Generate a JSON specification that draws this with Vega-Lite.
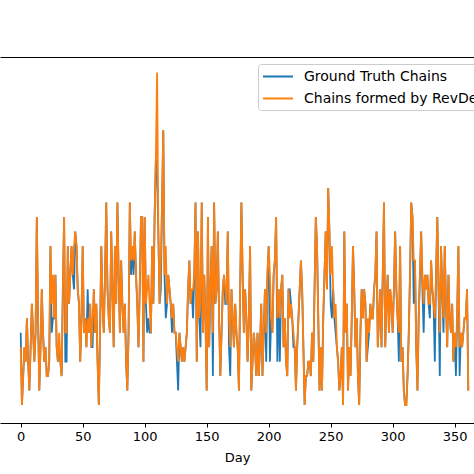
{
"$schema": "https://vega.github.io/schema/vega-lite/v6.json",
"width": 474, "height": 366,
"autosize": {"type": "none"},
"padding": {"top": 57, "left": 0, "right": 0, "bottom": 51},
"background": "white",
"config": {"view": {"stroke": null}, "font": "DejaVu Sans"},
"resolve": {"axis": {"x": "independent"}},
"data": {"values": [
{"d":0,"g":5,"r":4},{"d":1,"g":0,"r":0},{"d":2,"g":2,"r":2},{"d":3,"g":4,"r":4},{"d":4,"g":3,"r":3},{"d":5,"g":6,"r":6},{"d":6,"g":3,"r":3},{"d":7,"g":1,"r":1},{"d":8,"g":4,"r":4},{"d":9,"g":7,"r":7},
{"d":10,"g":5,"r":5},{"d":11,"g":3,"r":3},{"d":12,"g":5,"r":5},{"d":13,"g":13,"r":13},{"d":14,"g":6,"r":6},{"d":15,"g":1,"r":1},{"d":16,"g":4,"r":4},{"d":17,"g":8,"r":8},{"d":18,"g":5,"r":5},{"d":19,"g":3,"r":3},
{"d":20,"g":4,"r":4},{"d":21,"g":2,"r":2},{"d":22,"g":2,"r":2},{"d":23,"g":3,"r":3},{"d":24,"g":11,"r":11},{"d":25,"g":5,"r":7},{"d":26,"g":6,"r":9},{"d":27,"g":6,"r":6},{"d":28,"g":9,"r":9},{"d":29,"g":4,"r":4},
{"d":30,"g":3,"r":3},{"d":31,"g":4,"r":5},{"d":32,"g":3,"r":3},{"d":33,"g":2,"r":2},{"d":34,"g":8,"r":8},{"d":35,"g":13,"r":13},{"d":36,"g":3,"r":5},{"d":37,"g":3,"r":5},{"d":38,"g":11,"r":11},{"d":39,"g":7,"r":7},
{"d":40,"g":9,"r":9},{"d":41,"g":11,"r":11},{"d":42,"g":9,"r":9},{"d":43,"g":8,"r":11},{"d":44,"g":12,"r":12},{"d":45,"g":11,"r":11},{"d":46,"g":8,"r":8},{"d":47,"g":7,"r":7},{"d":48,"g":3,"r":3},{"d":49,"g":6,"r":6},
{"d":50,"g":11,"r":11},{"d":51,"g":5,"r":5},{"d":52,"g":6,"r":6},{"d":53,"g":4,"r":4},{"d":54,"g":8,"r":6},{"d":55,"g":5,"r":5},{"d":56,"g":7,"r":7},{"d":57,"g":4,"r":4},{"d":58,"g":4,"r":6},{"d":59,"g":8,"r":8},
{"d":60,"g":5,"r":5},{"d":61,"g":7,"r":7},{"d":62,"g":3,"r":3},{"d":63,"g":0,"r":0},{"d":64,"g":5,"r":5},{"d":65,"g":11,"r":11},{"d":66,"g":7,"r":7},{"d":67,"g":5,"r":5},{"d":68,"g":9,"r":9},{"d":69,"g":14,"r":14},
{"d":70,"g":8,"r":8},{"d":71,"g":6,"r":6},{"d":72,"g":5,"r":5},{"d":73,"g":12,"r":12},{"d":74,"g":8,"r":8},{"d":75,"g":4,"r":4},{"d":76,"g":11,"r":11},{"d":77,"g":7,"r":7},{"d":78,"g":14,"r":14},{"d":79,"g":9,"r":9},
{"d":80,"g":5,"r":5},{"d":81,"g":10,"r":10},{"d":82,"g":7,"r":7},{"d":83,"g":5,"r":5},{"d":84,"g":7,"r":7},{"d":85,"g":3,"r":3},{"d":86,"g":1,"r":1},{"d":87,"g":5,"r":5},{"d":88,"g":14,"r":14},{"d":89,"g":9,"r":10},
{"d":90,"g":11,"r":11},{"d":91,"g":9,"r":10},{"d":92,"g":12,"r":12},{"d":93,"g":9,"r":9},{"d":94,"g":7,"r":7},{"d":95,"g":4,"r":4},{"d":96,"g":8,"r":8},{"d":97,"g":13,"r":13},{"d":98,"g":13,"r":13},{"d":99,"g":3,"r":3},
{"d":100,"g":13,"r":13},{"d":101,"g":7,"r":7},{"d":102,"g":5,"r":8},{"d":103,"g":6,"r":9},{"d":104,"g":5,"r":7},{"d":105,"g":5,"r":5},{"d":106,"g":11,"r":11},{"d":107,"g":7,"r":7},{"d":108,"g":13,"r":13},{"d":109,"g":17,"r":17},
{"d":110,"g":16,"r":23},{"d":111,"g":12,"r":12},{"d":112,"g":7,"r":7},{"d":113,"g":8,"r":10},{"d":114,"g":14,"r":14},{"d":115,"g":19,"r":19},{"d":116,"g":9,"r":9},{"d":117,"g":6,"r":11},{"d":118,"g":7,"r":7},{"d":119,"g":9,"r":9},
{"d":120,"g":8,"r":8},{"d":121,"g":7,"r":7},{"d":122,"g":5,"r":6},{"d":123,"g":7,"r":7},{"d":124,"g":5,"r":5},{"d":125,"g":5,"r":5},{"d":126,"g":3,"r":4},{"d":127,"g":1,"r":3},{"d":128,"g":5,"r":5},{"d":129,"g":4,"r":4},
{"d":130,"g":3,"r":3},{"d":131,"g":4,"r":4},{"d":132,"g":3,"r":3},{"d":133,"g":4,"r":4},{"d":134,"g":5,"r":5},{"d":135,"g":8,"r":8},{"d":136,"g":10,"r":10},{"d":137,"g":7,"r":7},{"d":138,"g":8,"r":8},{"d":139,"g":6,"r":8},
{"d":140,"g":9,"r":9},{"d":141,"g":14,"r":14},{"d":142,"g":3,"r":3},{"d":143,"g":12,"r":12},{"d":144,"g":6,"r":6},{"d":145,"g":4,"r":7},{"d":146,"g":14,"r":14},{"d":147,"g":5,"r":5},{"d":148,"g":9,"r":9},{"d":149,"g":6,"r":6},
{"d":150,"g":1,"r":1},{"d":151,"g":13,"r":13},{"d":152,"g":4,"r":4},{"d":153,"g":8,"r":8},{"d":154,"g":11,"r":11},{"d":155,"g":2,"r":5},{"d":156,"g":14,"r":14},{"d":157,"g":7,"r":7},{"d":158,"g":8,"r":8},{"d":159,"g":12,"r":12},
{"d":160,"g":6,"r":6},{"d":161,"g":2,"r":2},{"d":162,"g":5,"r":5},{"d":163,"g":8,"r":8},{"d":164,"g":9,"r":9},{"d":165,"g":7,"r":8},{"d":166,"g":7,"r":7},{"d":167,"g":12,"r":12},{"d":168,"g":4,"r":6},{"d":169,"g":2,"r":4},
{"d":170,"g":8,"r":8},{"d":171,"g":6,"r":6},{"d":172,"g":4,"r":4},{"d":173,"g":7,"r":7},{"d":174,"g":5,"r":5},{"d":175,"g":4,"r":4},{"d":176,"g":1,"r":1},{"d":177,"g":8,"r":8},{"d":178,"g":14,"r":14},{"d":179,"g":9,"r":9},
{"d":180,"g":5,"r":5},{"d":181,"g":8,"r":8},{"d":182,"g":6,"r":6},{"d":183,"g":3,"r":3},{"d":184,"g":6,"r":6},{"d":185,"g":11,"r":11},{"d":186,"g":1,"r":1},{"d":187,"g":3,"r":3},{"d":188,"g":5,"r":5},{"d":189,"g":4,"r":4},
{"d":190,"g":2,"r":2},{"d":191,"g":5,"r":5},{"d":192,"g":2,"r":2},{"d":193,"g":4,"r":4},{"d":194,"g":7,"r":7},{"d":195,"g":2,"r":2},{"d":196,"g":5,"r":5},{"d":197,"g":8,"r":8},{"d":198,"g":3,"r":5},{"d":199,"g":9,"r":9},
{"d":200,"g":11,"r":11},{"d":201,"g":3,"r":9},{"d":202,"g":6,"r":6},{"d":203,"g":5,"r":5},{"d":204,"g":9,"r":9},{"d":205,"g":10,"r":10},{"d":206,"g":13,"r":13},{"d":207,"g":3,"r":6},{"d":208,"g":8,"r":8},{"d":209,"g":3,"r":6},
{"d":210,"g":8,"r":8},{"d":211,"g":9,"r":9},{"d":212,"g":4,"r":4},{"d":213,"g":6,"r":6},{"d":214,"g":3,"r":3},{"d":215,"g":2,"r":2},{"d":216,"g":8,"r":8},{"d":217,"g":8,"r":6},{"d":218,"g":7,"r":7},{"d":219,"g":6,"r":6},
{"d":220,"g":4,"r":5},{"d":221,"g":4,"r":4},{"d":222,"g":1,"r":1},{"d":223,"g":4,"r":4},{"d":224,"g":6,"r":6},{"d":225,"g":8,"r":8},{"d":226,"g":10,"r":10},{"d":227,"g":8,"r":8},{"d":228,"g":4,"r":4},{"d":229,"g":0,"r":0},
{"d":230,"g":2,"r":2},{"d":231,"g":2,"r":2},{"d":232,"g":3,"r":3},{"d":233,"g":3,"r":3},{"d":234,"g":2,"r":2},{"d":235,"g":5,"r":5},{"d":236,"g":3,"r":3},{"d":237,"g":8,"r":8},{"d":238,"g":13,"r":13},{"d":239,"g":11,"r":11},
{"d":240,"g":6,"r":6},{"d":241,"g":1,"r":1},{"d":242,"g":4,"r":4},{"d":243,"g":1,"r":1},{"d":244,"g":6,"r":6},{"d":245,"g":9,"r":9},{"d":246,"g":12,"r":12},{"d":247,"g":8,"r":8},{"d":248,"g":15,"r":15},{"d":249,"g":12,"r":12},
{"d":250,"g":7,"r":9},{"d":251,"g":6,"r":11},{"d":252,"g":8,"r":8},{"d":253,"g":6,"r":6},{"d":254,"g":5,"r":7},{"d":255,"g":4,"r":4},{"d":256,"g":3,"r":3},{"d":257,"g":1,"r":1},{"d":258,"g":2,"r":2},{"d":259,"g":4,"r":4},
{"d":260,"g":0,"r":0},{"d":261,"g":12,"r":12},{"d":262,"g":5,"r":5},{"d":263,"g":7,"r":7},{"d":264,"g":1,"r":1},{"d":265,"g":4,"r":4},{"d":266,"g":2,"r":2},{"d":267,"g":6,"r":6},{"d":268,"g":11,"r":11},{"d":269,"g":8,"r":8},
{"d":270,"g":4,"r":4},{"d":271,"g":6,"r":6},{"d":272,"g":2,"r":2},{"d":273,"g":0,"r":0},{"d":274,"g":5,"r":5},{"d":275,"g":8,"r":8},{"d":276,"g":6,"r":6},{"d":277,"g":8,"r":8},{"d":278,"g":7,"r":7},{"d":279,"g":3,"r":3},
{"d":280,"g":4,"r":6},{"d":281,"g":5,"r":5},{"d":282,"g":7,"r":7},{"d":283,"g":6,"r":6},{"d":284,"g":6,"r":6},{"d":285,"g":8,"r":8},{"d":286,"g":9,"r":9},{"d":287,"g":12,"r":12},{"d":288,"g":4,"r":4},{"d":289,"g":6,"r":6},
{"d":290,"g":8,"r":8},{"d":291,"g":4,"r":4},{"d":292,"g":9,"r":9},{"d":293,"g":14,"r":14},{"d":294,"g":4,"r":4},{"d":295,"g":7,"r":7},{"d":296,"g":9,"r":9},{"d":297,"g":5,"r":5},{"d":298,"g":8,"r":8},{"d":299,"g":7,"r":7},
{"d":300,"g":5,"r":5},{"d":301,"g":8,"r":8},{"d":302,"g":12,"r":12},{"d":303,"g":8,"r":8},{"d":304,"g":6,"r":6},{"d":305,"g":3,"r":5},{"d":306,"g":11,"r":11},{"d":307,"g":3,"r":3},{"d":308,"g":4,"r":4},{"d":309,"g":1,"r":1},
{"d":310,"g":0,"r":0},{"d":311,"g":0,"r":0},{"d":312,"g":2,"r":2},{"d":313,"g":5,"r":5},{"d":314,"g":9,"r":9},{"d":315,"g":14,"r":14},{"d":316,"g":13,"r":13},{"d":317,"g":7,"r":10},{"d":318,"g":10,"r":10},{"d":319,"g":4,"r":4},
{"d":320,"g":1,"r":1},{"d":321,"g":6,"r":6},{"d":322,"g":9,"r":9},{"d":323,"g":12,"r":12},{"d":324,"g":8,"r":9},{"d":325,"g":5,"r":7},{"d":326,"g":9,"r":9},{"d":327,"g":8,"r":8},{"d":328,"g":9,"r":9},{"d":329,"g":7,"r":7},
{"d":330,"g":6,"r":7},{"d":331,"g":10,"r":10},{"d":332,"g":8,"r":8},{"d":333,"g":7,"r":7},{"d":334,"g":3,"r":6},{"d":335,"g":9,"r":9},{"d":336,"g":13,"r":13},{"d":337,"g":8,"r":8},{"d":338,"g":2,"r":5},{"d":339,"g":11,"r":11},
{"d":340,"g":8,"r":8},{"d":341,"g":5,"r":6},{"d":342,"g":11,"r":11},{"d":343,"g":7,"r":7},{"d":344,"g":4,"r":4},{"d":345,"g":9,"r":9},{"d":346,"g":6,"r":6},{"d":347,"g":5,"r":5},{"d":348,"g":7,"r":7},{"d":349,"g":3,"r":3},
{"d":350,"g":5,"r":5},{"d":351,"g":2,"r":4},{"d":352,"g":6,"r":6},{"d":353,"g":11,"r":11},{"d":354,"g":2,"r":4},{"d":355,"g":5,"r":5},{"d":356,"g":4,"r":4},{"d":357,"g":5,"r":5},{"d":358,"g":6,"r":6},{"d":359,"g":6,"r":6},
{"d":360,"g":8,"r":8},{"d":361,"g":1,"r":1}
]},
"layer": [
{"mark": {"type": "line", "strokeWidth": 1.8},
 "encoding": {
  "x": {"field": "d", "type": "quantitative", "scale": {"domain": [-16.7, 365.6], "nice": false, "zero": false},
        "axis": {"values": [0,50,100,150,200,250,300,350], "title": "Day", "grid": false, "tickSize": 4, "labelPadding": 3,
                 "labelFontSize": 13, "titleFontSize": 13, "titleFontWeight": "normal", "labelColor": "black", "titleColor": "black",
                 "domainColor": "black", "tickColor": "black", "titlePadding": 8, "labelFlush": false, "labelFont": "DejaVu Sans", "titleFont": "DejaVu Sans"}},
  "y": {"field": "g", "type": "quantitative", "scale": {"domain": [-1.245, 24.07], "nice": false, "zero": false}, "axis": null},
  "color": {"datum": "Ground Truth Chains", "type": "nominal",
            "scale": {"domain": ["Ground Truth Chains", "Chains formed by RevDetect"], "range": ["#1f77b4", "#ff7f0e"]},
            "legend": {"orient": "none", "legendX": 258, "legendY": 7, "direction": "vertical", "title": null,
                       "symbolType": "M-2,0H2", "symbolSize": 225, "symbolStrokeWidth": 2, "symbolOffset": 7.5, "labelFontSize": 14,
                       "labelFont": "DejaVu Sans", "labelColor": "black", "labelLimit": 400, "padding": 4, "rowPadding": 6,
                       "fillColor": "rgba(255,255,255,0.8)", "strokeColor": "#cccccc", "cornerRadius": 3, "labelOffset": 17.5}}
 }},
{"mark": {"type": "line", "strokeWidth": 1.8},
 "encoding": {
  "x": {"field": "d", "type": "quantitative", "axis": {"orient": "top", "labels": false, "ticks": false, "title": null, "grid": false, "domainColor": "black"}},
  "y": {"field": "r", "type": "quantitative"},
  "color": {"datum": "Chains formed by RevDetect", "type": "nominal"}
 }}
]
}
